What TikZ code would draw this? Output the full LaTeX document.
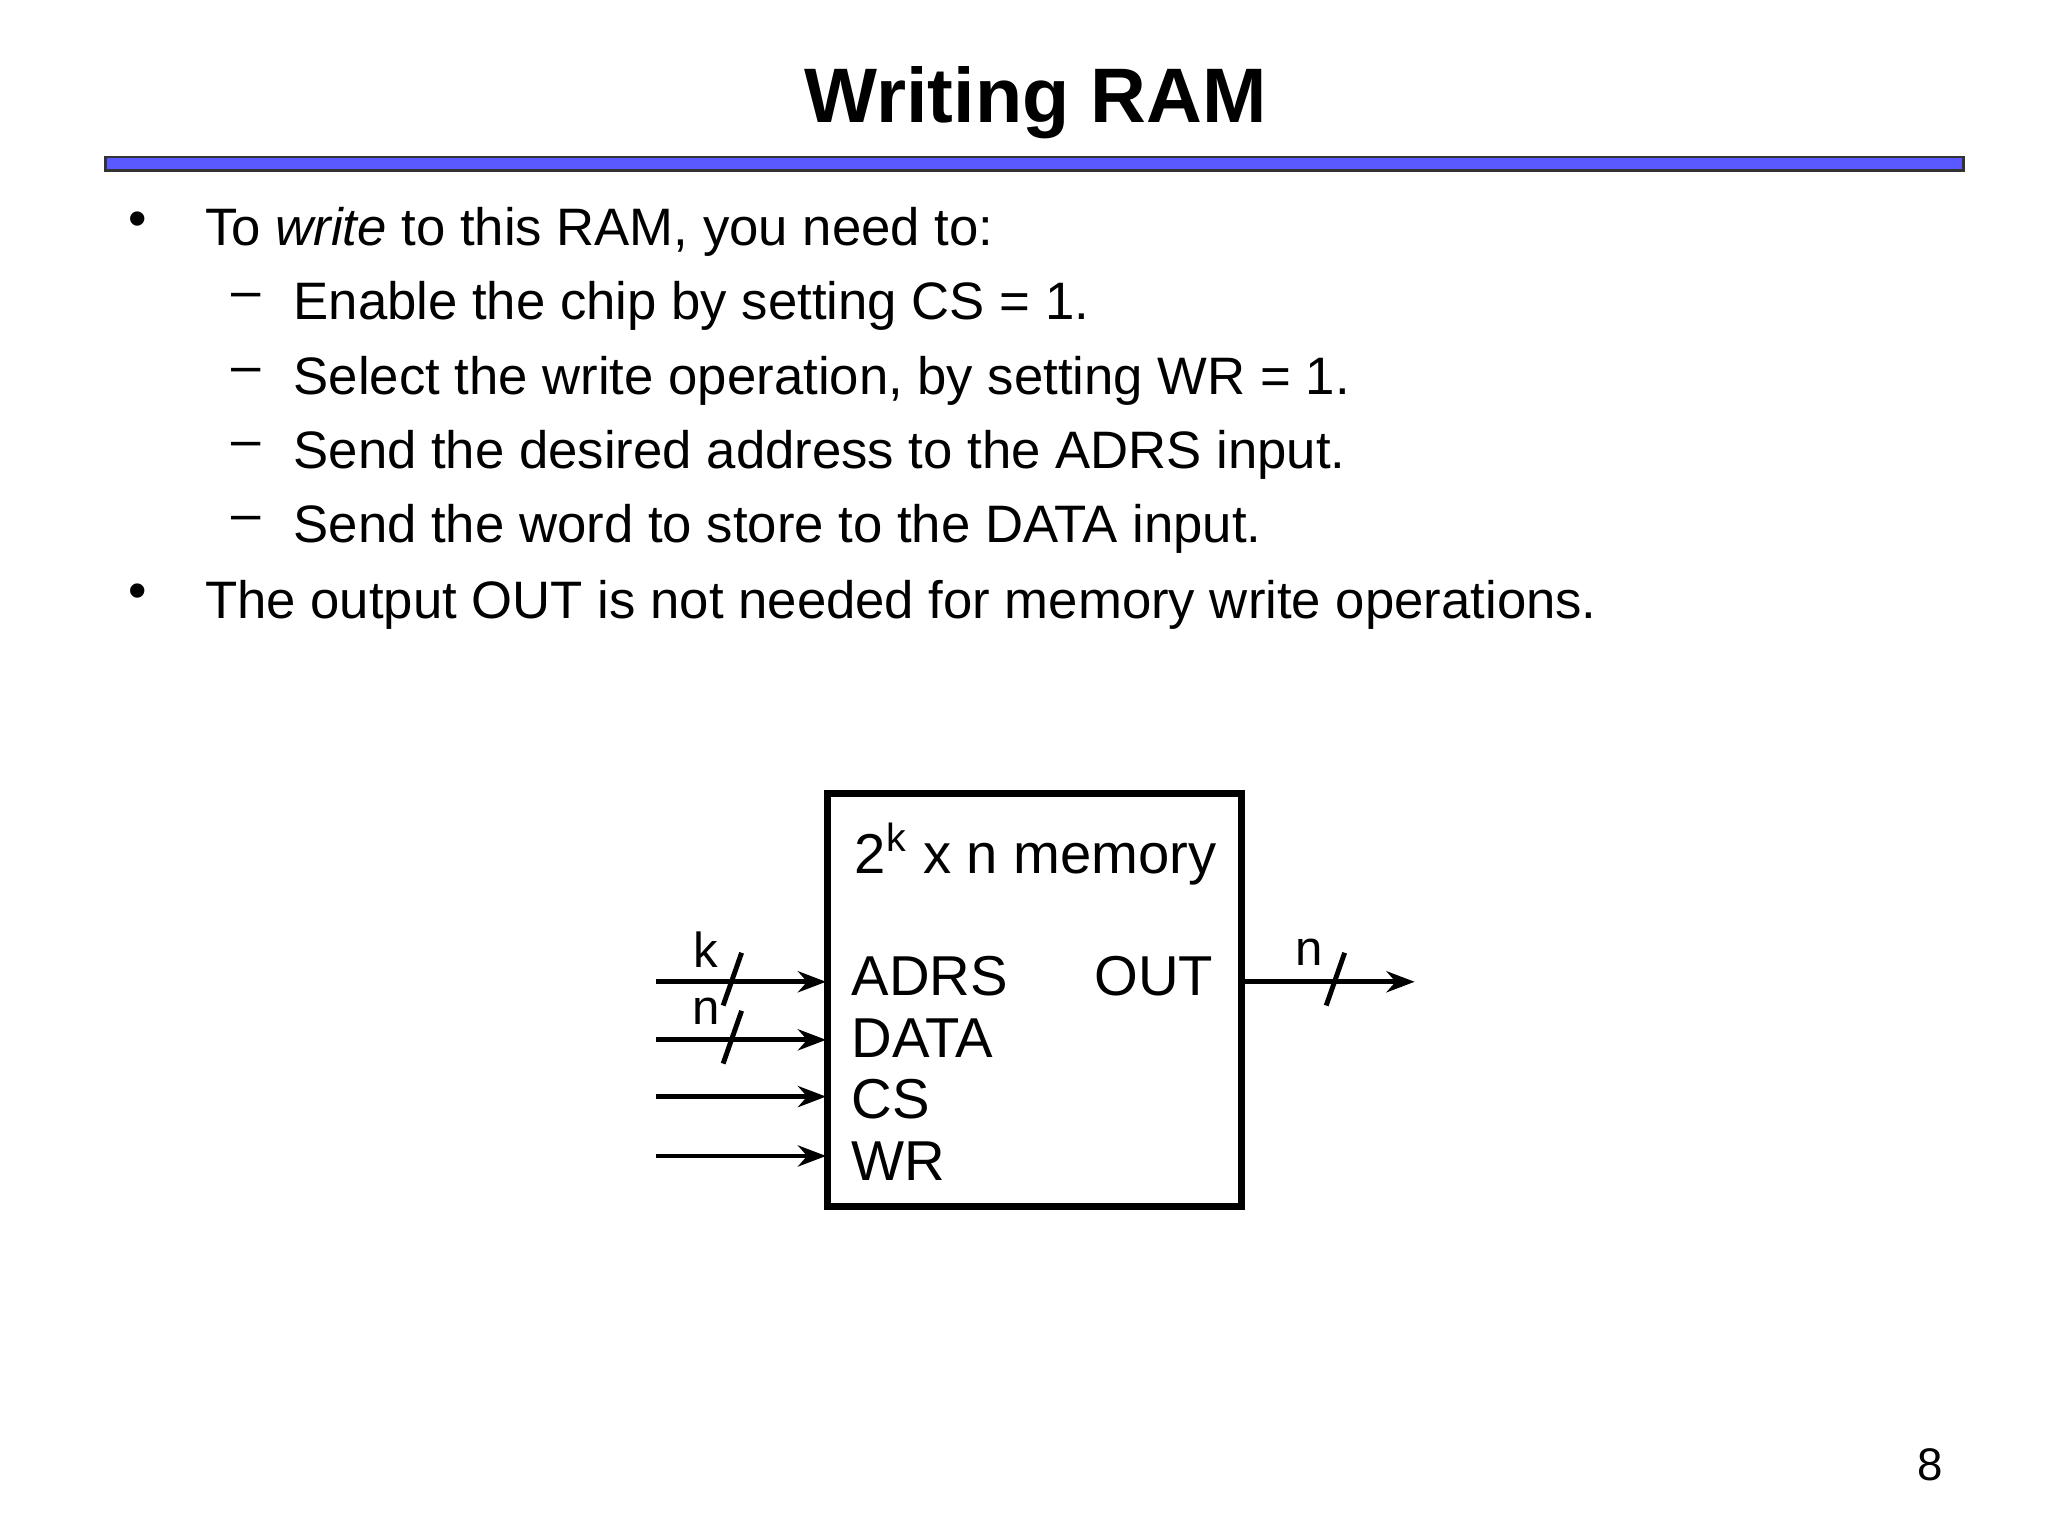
\documentclass[tikz,border=0pt]{standalone}
\usepackage{fontspec}
\setmainfont{Liberation Sans}
\usetikzlibrary{arrows.meta}
\begin{document}
\begin{tikzpicture}[x=0.0132cm,y=-0.0132cm,
  body/.style={anchor=west,inner sep=0pt,font=\fontsize{15}{18}\selectfont},
  sig/.style={anchor=west,inner sep=0pt,font=\fontsize{16}{19}\selectfont},
  wire/.style={line width=1.4pt,-{Stealth[length=8pt,width=6pt]}},
  slash/.style={line width=1.4pt}]
\useasboundingbox (0,0) rectangle (1552,1164);
\node[font=\fontsize{22}{26}\selectfont\bfseries] (title) at (785,78) {Writing RAM};
\filldraw[fill=blue!65!white,draw=black!80,line width=0.8pt] (80,119) rectangle (1488,129);
\node[body] (b1d) at (97,170) {•};
\node[body] (b1) at (155,176) {To \textit{write} to this RAM, you need to:};
\node[body] (d1) at (175,228) {–};
\node[body] (s1) at (222,232) {Enable the chip by setting CS = 1.};
\node[body] (d2) at (175,285) {–};
\node[body] (s2) at (222,289) {Select the write operation, by setting WR = 1.};
\node[body] (d3) at (175,341) {–};
\node[body] (s3) at (222,345) {Send the desired address to the ADRS input.};
\node[body] (d4) at (175,397) {–};
\node[body] (s4) at (222,401) {Send the word to store to the DATA input.};
\node[body] (b2d) at (97,452) {•};
\node[body] (b2) at (155,458) {The output OUT is not needed for memory write operations.};
\draw[line width=2pt] (627,601) rectangle (941,914);
\node[font=\fontsize{16}{19}\selectfont] (lbl) at (785,647) {2\textsuperscript{k} x n memory};
\node[sig] (adrs) at (645,740) {ADRS};
\node[sig] (data) at (645,787) {DATA};
\node[sig] (cs) at (645,833) {CS};
\node[sig] (wr) at (645,880) {WR};
\node[sig] (out) at (829,740) {OUT};
\coordinate (i1) at (497,744); \coordinate (e1) at (626,744);
\coordinate (i2) at (497,788); \coordinate (e2) at (626,788);
\coordinate (i3) at (497,831); \coordinate (e3) at (626,831);
\coordinate (i4) at (497,876); \coordinate (e4) at (626,876);
\coordinate (o1) at (942,744); \coordinate (o2) at (1072,744);
\draw[wire] (i1) -- (e1);
\draw[wire] (i2) -- (e2);
\draw[wire] (i3) -- (e3);
\draw[wire] (i4) -- (e4);
\draw[wire] (o1) -- (o2);
\draw[slash] (548,762) -- (562,722);
\draw[slash] (548,806) -- (562,766);
\draw[slash] (1005,762) -- (1019,722);
\node[font=\fontsize{14}{16}\selectfont] (kl) at (535,720) {k};
\node[font=\fontsize{14}{16}\selectfont] (nl) at (535,766) {n};
\node[font=\fontsize{14}{16}\selectfont] (nl2) at (992,722) {n};
\node[font=\fontsize{13}{15}\selectfont] (pg) at (1463,1110) {8};
\end{tikzpicture}
\end{document}
